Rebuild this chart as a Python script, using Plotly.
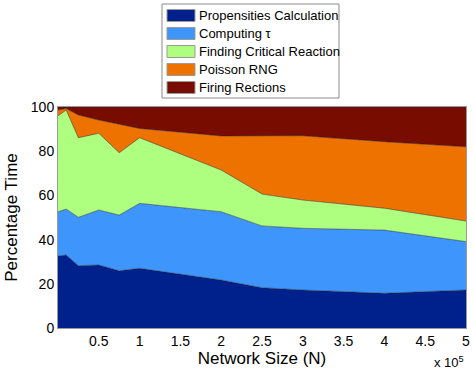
import plotly.graph_objects as go

network_size = [0, 10000, 25000, 50000, 75000, 100000, 200000, 250000, 300000, 400000, 500000]
propensities = [32.6, 33.0, 28.2, 28.5, 25.9, 27.0, 21.7, 18.2, 17.2, 15.7, 17.2]
computing_tau = [20.0, 20.8, 21.9, 24.9, 25.2, 29.4, 30.9, 28.0, 27.9, 28.6, 21.9]
finding_critical = [43.4, 44.8, 36.0, 34.7, 28.2, 29.7, 18.9, 14.4, 12.8, 9.9, 9.3]
poisson_rng = [2.6, 0.7, 10.3, 6.0, 12.9, 4.2, 15.4, 26.4, 29.1, 30.1, 33.6]
firing_reactions = [1.4, 0.7, 3.6, 5.9, 7.8, 9.7, 13.1, 13.0, 13.0, 15.7, 18.0]

series_names = ["Propensities Calculation", "Computing \u03c4", "Finding Critical Reaction",
                "Poisson RNG", "Firing Rections"]
series_values = [propensities, computing_tau, finding_critical, poisson_rng, firing_reactions]
colors = ["#00208C", "#3E95FB", "#AEFF80", "#EE7200", "#780C00"]

x_tick_vals = [50000, 100000, 150000, 200000, 250000, 300000, 350000, 400000, 450000, 500000]
x_tick_text = ["0.5", "1", "1.5", "2", "2.5", "3", "3.5", "4", "4.5", "5"]
y_tick_vals = [0, 20, 40, 60, 80, 100]

FONT = "Liberation Sans, Arial, Helvetica, sans-serif"
W, H = 474, 371
ML, MR, MT, MB = 58, 8, 107, 43
PW, PH = W - ML - MR, H - MT - MB


def px_x(px):
    return (px - ML) / PW


def px_y(py):
    return (H - MB - py) / PH


fig = go.Figure()
for name, vals, col in zip(series_names, series_values, colors):
    fig.add_trace(go.Scatter(
        x=network_size, y=vals, name=name, mode="lines",
        stackgroup="one", fillcolor=col,
        line=dict(color="rgba(30,30,30,0.8)", width=0.6),
        showlegend=False,
    ))

# manual legend (box, colour patches, labels)
shapes = [dict(type="rect", xref="paper", yref="paper",
               x0=px_x(162), x1=px_x(339), y0=px_y(98), y1=px_y(4),
               line=dict(color="#8a8a8a", width=1), fillcolor="white", layer="above")]
annotations = []
for i, (name, col) in enumerate(zip(series_names, colors)):
    cy = 15.5 + 18 * i
    shapes.append(dict(type="rect", xref="paper", yref="paper",
                       x0=px_x(167), x1=px_x(195), y0=px_y(cy + 6), y1=px_y(cy - 6),
                       line=dict(color="#9a9a9a", width=1), fillcolor=col, layer="above"))
    annotations.append(dict(text=name, xref="paper", yref="paper",
                            x=px_x(197), y=px_y(cy), xanchor="left", yanchor="middle",
                            showarrow=False, font=dict(family=FONT, size=13, color="black")))

annotations.append(dict(
    text="x 10<sup>5</sup>", xref="paper", yref="paper", x=1.0, y=-0.11,
    xanchor="right", yanchor="top", showarrow=False,
    font=dict(family=FONT, size=13, color="black"),
))

fig.update_layout(
    width=W, height=H,
    margin=dict(l=ML, r=MR, t=MT, b=MB),
    paper_bgcolor="white", plot_bgcolor="white",
    font=dict(family=FONT, color="black", size=14),
    showlegend=False,
    xaxis=dict(
        range=[0, 500000], tickvals=x_tick_vals, ticktext=x_tick_text,
        showgrid=False, zeroline=False, showline=True, linecolor="#999999",
        linewidth=1, mirror=True, ticks="", tickfont=dict(size=14),
        title=dict(text="Network Size (N)", font=dict(size=17), standoff=2),
        automargin=False,
    ),
    yaxis=dict(
        range=[0, 100], tickvals=y_tick_vals,
        showgrid=False, zeroline=False, showline=True, linecolor="#999999",
        linewidth=1, mirror=True, ticks="", tickfont=dict(size=14),
        title=dict(text="Percentage Time", font=dict(size=17), standoff=8),
        automargin=False,
    ),
    shapes=shapes,
    annotations=annotations,
)

fig.write_html("out.html", config={"displayModeBar": False},
               post_script="document.body.style.margin='0px';")
